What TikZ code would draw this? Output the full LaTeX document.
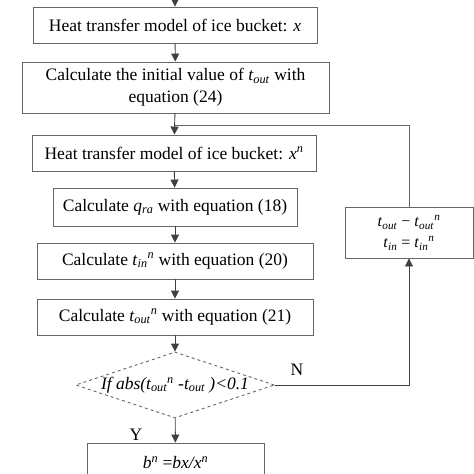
\documentclass[tikz,border=0pt]{standalone}
\usepackage{fontspec}
\setmainfont{Liberation Serif}
\usetikzlibrary{arrows.meta,shapes.geometric}
\def\sbs#1{\textsubscript{\textit{#1}}}
\def\sps#1{\textsuperscript{\textit{#1}}}
\tikzset{
	box/.style={draw=black!60, line width=0.9pt, minimum height=36, inner sep=0pt, align=center, font=\fontsize{17.5}{22}\selectfont},
	flow/.style={draw=black!75, line width=0.9pt, -{Triangle[length=8pt,width=8pt]}},
	link/.style={draw=black!60, line width=0.9pt}
}

\begin{document}
\begin{tikzpicture}[x=1pt, y=-1pt]
			%%%%% START %%%%%
			\useasboundingbox (0,0) rectangle (474,474);
			
			\node[box, minimum width=284] (model) at (175,25) {Heat transfer model of ice bucket: \textit{x}};
			\node[box, minimum width=307, minimum height=51] (init) at (175.5,87.5) {Calculate the initial value of \textit{t}\sbs{out} with\\equation (24)};
			\node[box, minimum width=284] (modeln) at (174,153) {Heat transfer model of ice bucket: \textit{x}\sps{n}};
			\node[box, minimum width=244, minimum height=38] (qra) at (175,207) {Calculate \textit{q}\sbs{ra} with equation (18)};
			\node[box, minimum width=276] (tin) at (175,261) {Calculate \textit{t}\sbs{in}\sps{n} with equation (20)};
			\node[box, minimum width=276] (tout) at (175,317) {Calculate \textit{t}\sbs{out}\sps{n} with equation (21)};
			\node[box, diamond, dashed, aspect=3, minimum width=199, minimum height=66] (check) at (175,385) {\textit{If abs(t\sbs{out}\sps{n} -t\sbs{out} )<0.1}};
			\node[box, minimum width=177, minimum height=40] (bn) at (175.5,463) {\textit{b}\sps{n} =\textit{bx/x}\sps{n}};
			
			\node[box, minimum width=128, minimum height=51, font=\fontsize{16}{21}\selectfont] (upd) at (409,232.5) {\textit{t}\sbs{out} − \textit{t}\sbs{out}\sps{n}\\\textit{t}\sbs{in} = \textit{t}\sbs{in}\sps{n}};
			
			\node[font=\fontsize{17.5}{22}\selectfont] (yes) at (136,435) {Y};
			\node[font=\fontsize{17.5}{22}\selectfont] (no) at (297,370) {N};
			
			\coordinate (start) at (175,0);
			\coordinate (join) at (175,125);
			
			\draw[flow] (start) -- (model);
			\draw[flow] (model) -- (init);
			\draw[flow] (init) -- (modeln);
			\draw[flow] (modeln) -- (qra);
			\draw[flow] (qra) -- (tin);
			\draw[flow] (tin) -- (tout);
			\draw[flow] (tout) -- (check);
			\draw[flow] (check) -- (bn);
			
			% loop back
			\draw[flow] (check.east) -| (upd.south);
			\draw[link] (upd.north) |- (join);
			
			%%%%% END %%%%%
		\end{tikzpicture}
\end{document}
